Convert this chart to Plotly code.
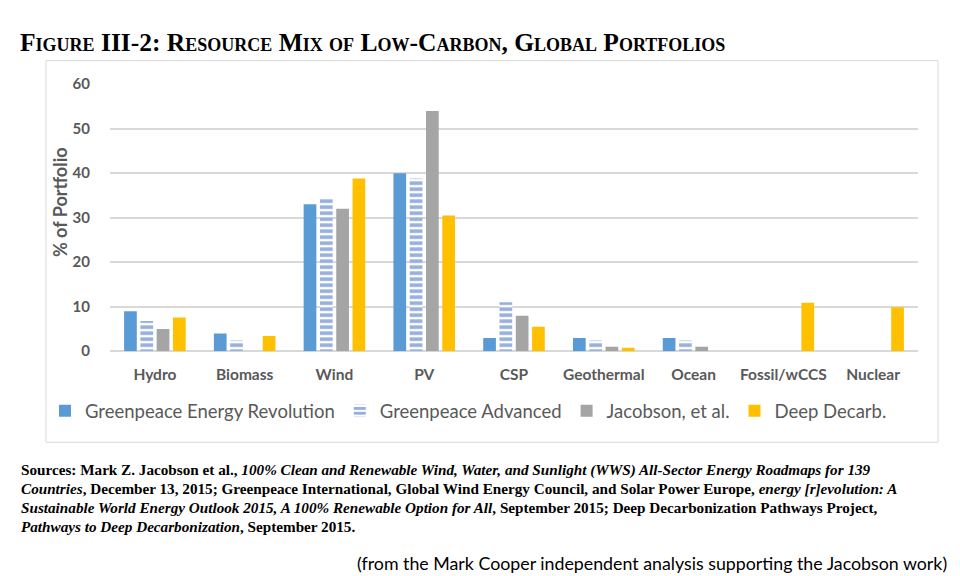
import plotly.graph_objects as go

categories = ["Hydro", "Biomass", "Wind", "PV", "CSP", "Geothermal", "Ocean", "Fossil/wCCS", "Nuclear"]
greenpeace_rev = [9.0, 4.0, 33.0, 40.0, 3.0, 3.0, 3.0, 0, 0]
greenpeace_adv = [6.8, 2.4, 34.2, 38.8, 11.0, 2.4, 2.4, 0, 0]
jacobson = [5.0, 0, 32.0, 54.0, 8.0, 1.0, 1.0, 0, 0]
deep_decarb = [7.6, 3.4, 38.8, 30.5, 5.5, 0.8, 0, 10.9, 9.9]
y_ticks = [0, 10, 20, 30, 40, 50, 60]

source_lines = [
    "<b>Sources: Mark Z. Jacobson et al., <i>100% Clean and Renewable Wind, Water, and Sunlight (WWS) All-Sector Energy Roadmaps for 139</i></b>",
    "<b><i>Countries</i>, December 13, 2015; Greenpeace International, Global Wind Energy Council, and Solar Power Europe, <i>energy [r]evolution: A</i></b>",
    "<b><i>Sustainable World Energy Outlook 2015, A 100% Renewable Option for All</i>, September 2015; Deep Decarbonization Pathways Project,</b>",
    "<b><i>Pathways to Deep Decarbonization</i>, September 2015.</b>",
]

W, H = 960, 576
def px(x):
    return x / W
def py(y):
    return 1 - y / H

fig = go.Figure()
fig.add_trace(go.Bar(name="Greenpeace Energy Revolution", x=categories, y=greenpeace_rev,
                     marker=dict(color="#5B9BD5", line=dict(width=0))))
fig.add_trace(go.Bar(name="Greenpeace Advanced", x=categories, y=greenpeace_adv,
                     marker=dict(color="white", line=dict(width=0),
                                 pattern=dict(shape="-", fgcolor="#2F5FBF", bgcolor="white",
                                              size=6, solidity=0.6, fillmode="overlay"))))
fig.add_trace(go.Bar(name="Jacobson, et al.", x=categories, y=jacobson,
                     marker=dict(color="#A5A5A5", line=dict(width=0))))
fig.add_trace(go.Bar(name="Deep Decarb.", x=categories, y=deep_decarb,
                     marker=dict(color="#FFC000", line=dict(width=0))))

sans = "Lato, 'Open Sans', sans-serif"
serif = "'Liberation Serif', 'Times New Roman', serif"

annotations = [
    dict(text="<b>Figure III-2: Resource Mix of Low-Carbon, Global Portfolios</b>",
         xref="paper", yref="paper", x=px(10), y=py(25), xanchor="left", yanchor="middle",
         showarrow=False, font=dict(family=serif, size=25.5, color="black", variant="small-caps")),
    dict(text="<b>% of Portfolio</b>", textangle=-90,
         xref="paper", yref="paper", x=px(52), y=py(190), xanchor="center", yanchor="middle",
         showarrow=False, font=dict(family=sans, size=18, color="#595959")),
    dict(text="(from the Mark Cooper independent analysis supporting the Jacobson work)",
         xref="paper", yref="paper", x=px(941), y=py(563), xanchor="right", yanchor="middle",
         showarrow=False, font=dict(family=sans, size=17.8, color="black")),
]
source_y = [466.6, 486.0, 505.4, 524.6]
for line, yy in zip(source_lines, source_y):
    annotations.append(dict(text=line, xref="paper", yref="paper", x=px(11), y=py(yy),
                            xanchor="left", yanchor="middle", align="left", showarrow=False,
                            font=dict(family=serif, size=15.2, color="black")))

fig.update_layout(
    width=W, height=H,
    margin=dict(l=0, r=0, t=0, b=0),
    paper_bgcolor="white", plot_bgcolor="white",
    barmode="group", bargap=0.274, bargroupgap=0.22,
    font=dict(family=sans, color="#595959"),
    xaxis=dict(domain=[px(102), px(910)], showgrid=False, showline=False, ticks="",
               tickfont=dict(family=sans, size=15.5, color="#595959", weight="bold"),
               ticklabelstandoff=12, fixedrange=True),
    yaxis=dict(domain=[py(344), py(68.3)], range=[0, 60], tickvals=y_ticks,
               showgrid=True, gridcolor="#D9D9D9", gridwidth=1.5,
               zeroline=True, zerolinecolor="#D9D9D9", zerolinewidth=1.5,
               showline=False, ticks="",
               tickfont=dict(family=sans, size=15, color="#595959", weight="bold"),
               ticklabelstandoff=19),
    legend=dict(orientation="h", x=px(37), xanchor="left", y=py(406), yanchor="middle",
                font=dict(family=sans, size=18.5, color="#595959"),
                itemwidth=30, tracegroupgap=0, bgcolor="rgba(0,0,0,0)"),
    shapes=[dict(type="rect", xref="paper", yref="paper",
                 x0=px(38), x1=px(930), y0=py(438), y1=py(44),
                 line=dict(color="#D9D9D9", width=1), fillcolor="rgba(0,0,0,0)", layer="below")],
    annotations=annotations,
)

fig.write_html("out.html")
